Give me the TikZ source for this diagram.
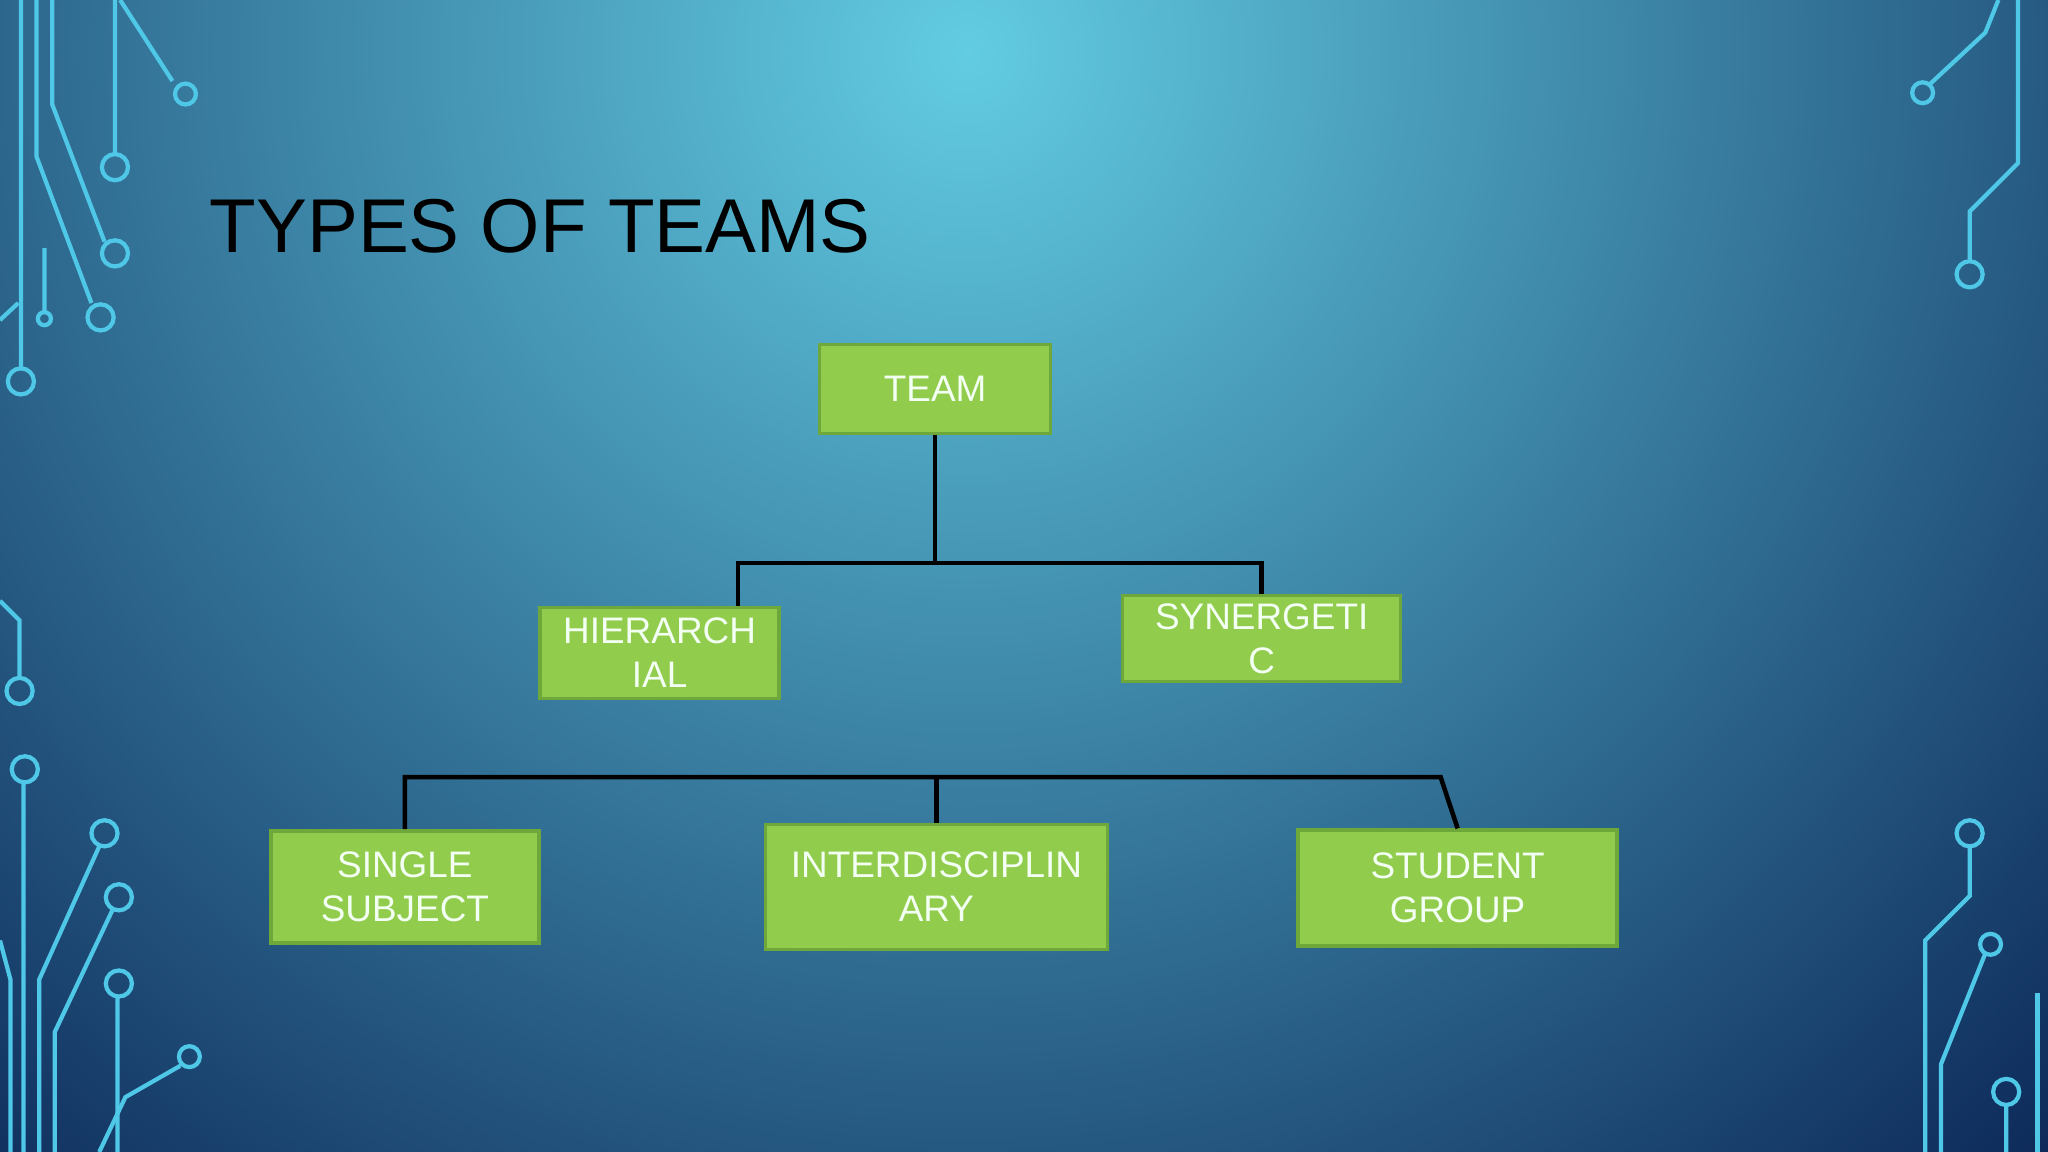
\documentclass[tikz,border=0pt]{standalone}
\usepackage{fontspec}
\setmainfont{Liberation Sans}
\usetikzlibrary{calc}
\definecolor{boxgreen}{HTML}{92CC4C}
\definecolor{boxedge}{HTML}{6FA83A}
\definecolor{circuit}{HTML}{4FC8E8}
\definecolor{glow}{RGB}{98,204,226}
\definecolor{deep}{RGB}{8,32,82}
\tikzset{
    box/.style={draw=boxedge, fill=boxgreen, line width=1pt, text=white!95!green, align=center, font=\fontsize{10.5}{12.5}\selectfont, inner sep=0pt},
    link/.style={line width=1.3pt, black},
    trace/.style={circuit, line width=1.2pt}
}
\begin{document}
\begin{tikzpicture}[x=0.013061cm, y=-0.013061cm]
    \useasboundingbox (0,0) rectangle (1568,882);
    \begin{scope}
        \clip (0,0) rectangle (1568,882);
        \shade[inner color=glow, outer color=deep] (740,40) circle (1250);
    \end{scope}

    % circuit traces
    \draw[trace] (88,0) -- (88,118) (88,128) circle (10);
    \draw[trace] (92,0) -- (132,62) (142,72) circle (8);
    \draw[trace] (40,0) -- (40,80) -- (80,185) (88,194) circle (10);
    \draw[trace] (16,0) -- (16,282) (16,292) circle (10);
    \draw[trace] (28,0) -- (28,120) -- (70,232) (77,243) circle (10);
    \draw[trace] (34,190) -- (34,238) (34,244) circle (5);
    \draw[trace] (0,245) -- (14,232);
    \draw[trace] (0,460) -- (15,475) -- (15,518) (15,529) circle (10);
    \draw[trace] (18,600) -- (18,882) (19,589) circle (10);
    \draw[trace] (30,882) -- (30,750) -- (76,648) (80,638) circle (10);
    \draw[trace] (42,882) -- (42,790) -- (86,697) (91,687) circle (10);
    \draw[trace] (90,882) -- (90,764) (91,753) circle (10);
    \draw[trace] (76,882) -- (96,840) -- (138,816) (145,809) circle (8);
    \draw[trace] (0,720) -- (8,750) -- (8,882);
    \draw[trace] (1530,0) -- (1520,25) -- (1478,64) (1472,71) circle (8);
    \draw[trace] (1545,0) -- (1545,125) -- (1508,162) -- (1508,200) (1508,210) circle (10);
    \draw[trace] (1474,882) -- (1474,720) -- (1508,686) -- (1508,648) (1508,638) circle (10);
    \draw[trace] (1486,882) -- (1486,815) -- (1520,730) (1524,723) circle (8);
    \draw[trace] (1536,882) -- (1536,846) (1536,836) circle (10);
    \draw[trace] (1560,760) -- (1560,882);

    \node[anchor=base west, font=\fontsize{21.7}{26}\selectfont, inner sep=0pt] (title) at (160,193) {TYPES OF TEAMS};

    \node[box, minimum width=2.31cm, minimum height=0.89cm] (team) at (716,298) {TEAM};
        \node[box, minimum width=2.39cm, minimum height=0.91cm] (hier) at (505,500) {HIERARCH\\IAL};
        \node[box, minimum width=2.78cm, minimum height=0.86cm] (syn) at (966,489) {SYNERGETI\\C};
    \node[box, minimum width=2.68cm, minimum height=1.12cm] (single) at (310,679) {SINGLE\\SUBJECT};
    \node[box, minimum width=3.42cm, minimum height=1.25cm] (inter) at (717,679) {INTERDISCIPLIN\\ARY};
    \node[box, minimum width=3.19cm, minimum height=1.16cm] (student) at (1116,680) {STUDENT\\GROUP};

    \coordinate (bus1) at (716,431);
    \coordinate (bus2) at (717,595);
    \coordinate (kink) at (1103,595);

    \draw[link] (team) -- (bus1);
    \draw[link] (hier.north -| 565,0) |- (bus1) -| (syn.north);
    \draw[link] (single.north) |- (bus2) -- (kink) -- (student.north);
    \draw[link] (inter.north) -- (bus2);
\end{tikzpicture}
\end{document}
